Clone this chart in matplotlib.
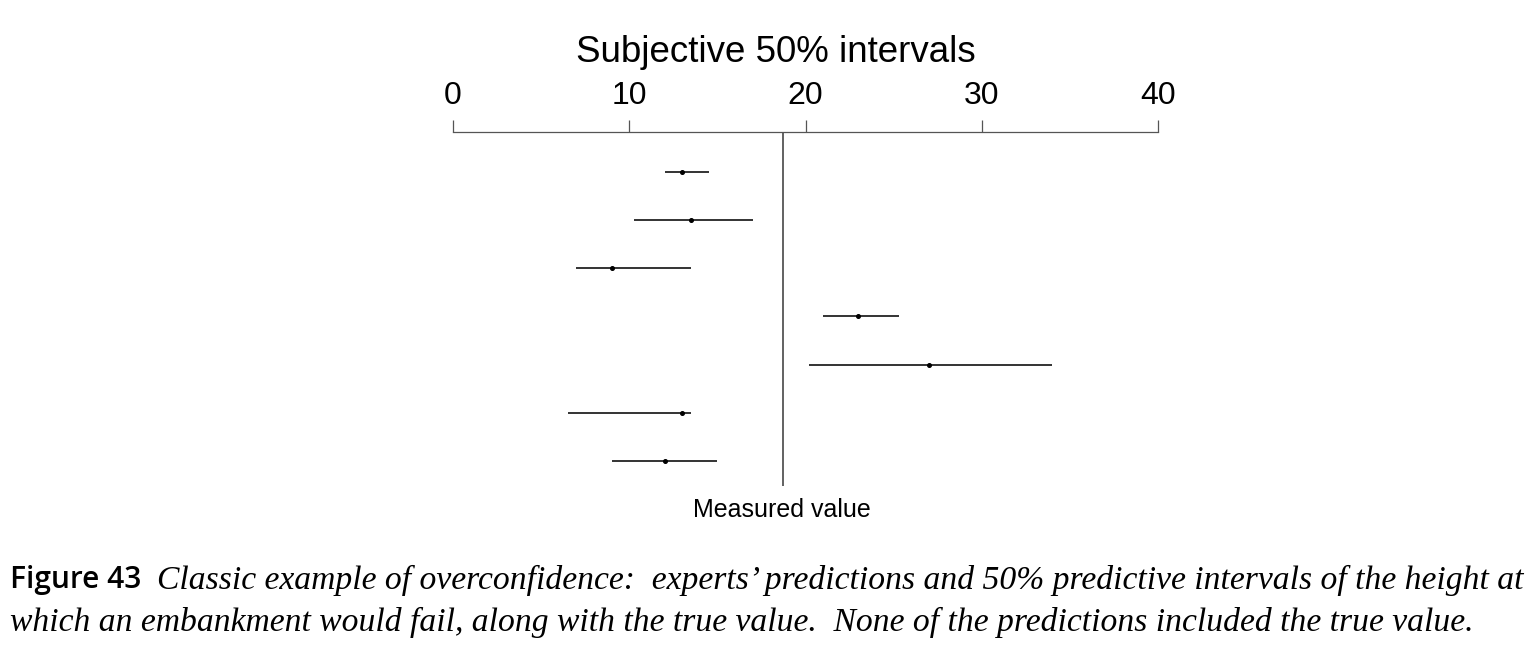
"""
plot.py – expert predictions with subjective 50% intervals vs. measured value.
"""
import matplotlib
matplotlib.use("Agg")
import matplotlib.pyplot as plt
import numpy as np

# ── data ──────────────────────────────────────────────────────────────────────
expert_low = [12.0, 10.25, 7.0, 21.0, 20.2, 6.5, 9.0]
expert_high = [14.5, 17.0, 13.5, 25.3, 34.0, 13.5, 15.0]
expert_pred = [13.0, 13.5, 9.0, 23.0, 27.0, 13.0, 12.0]
measured_value = 18.7
x_ticks = [0, 10, 20, 30, 40]

W, H = 1536, 653
FONT = "Liberation Sans"


def fx(px):
    return px / W


def fy(py):
    return 1 - py / H


fig = plt.figure(figsize=(W / 100, H / 100), dpi=100)
fig.patch.set_facecolor("white")

ax = fig.add_axes([fx(453), fy(486), fx(1158) - fx(453), fy(132) - fy(486)])
rows = np.arange(len(expert_pred))

ax.hlines(rows, expert_low, expert_high, color="#333333", linewidth=1.4)
ax.plot(expert_pred, rows, "o", color="black", markersize=2.6)
ax.axvline(measured_value, color="#555555", linewidth=1.3)

ax.set_xlim(0, 40)
ax.set_ylim(6.52, -0.83)
ax.xaxis.tick_top()
ax.set_xticks(x_ticks)
ax.set_xticklabels([str(t) for t in x_ticks], fontsize=23, family=FONT)
ax.tick_params(axis="x", direction="out", length=9, width=0.9,
               color="#555555", pad=6)
ax.set_yticks([])
for side in ["left", "right", "bottom"]:
    ax.spines[side].set_visible(False)
ax.spines["top"].set_color("#555555")
ax.spines["top"].set_linewidth(0.9)

fig.text(fx(776), fy(52), "Subjective 50% intervals", ha="center",
         va="center", fontsize=26.5, family=FONT)
fig.text(fx(782), fy(510), "Measured value", ha="center", va="center",
         fontsize=18, family=FONT)

# ── caption ───────────────────────────────────────────────────────────────────
fig.text(fx(10), fy(580), "Figure 43", ha="left", va="center",
         fontsize=21.5, family="Open Sans", weight="semibold")
fig.text(fx(157), fy(580),
         "Classic example of overconfidence:  experts\u2019 predictions and 50% "
         "predictive intervals of the height at",
         ha="left", va="center", fontsize=24.2, family="Liberation Serif",
         style="italic")
fig.text(fx(10), fy(622),
         "which an embankment would fail, along with the true value.  "
         "None of the predictions included the true value.",
         ha="left", va="center", fontsize=24.2, family="Liberation Serif",
         style="italic")

fig.savefig("out.png", dpi=100, facecolor="white")
plt.close(fig)
